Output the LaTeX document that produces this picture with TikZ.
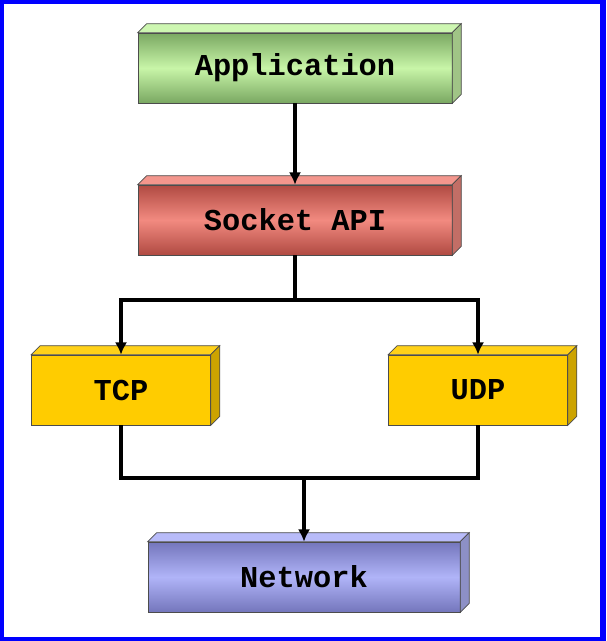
\documentclass[tikz,border=0pt]{standalone}
\usepackage{fontspec}
\setmonofont{Liberation Mono}
\usetikzlibrary{positioning, calc}
\definecolor{appmid}{HTML}{C8F5A8}
\definecolor{appdark}{HTML}{7AA862}
\definecolor{sockmid}{HTML}{F28A80}
\definecolor{sockdark}{HTML}{B04A42}
\definecolor{netmid}{HTML}{B0B4F8}
\definecolor{netdark}{HTML}{7476BC}
\definecolor{protofill}{HTML}{FFCC00}
\tikzstyle{layer} = [rectangle, minimum height=1.4cm, text centered, draw=black!70, font=\ttfamily\bfseries\LARGE]
\tikzstyle{app} = [layer, minimum width=6.28cm, top color=appdark, bottom color=appdark, middle color=appmid]
\tikzstyle{sock} = [layer, minimum width=6.28cm, top color=sockdark, bottom color=sockdark, middle color=sockmid]
\tikzstyle{proto} = [layer, minimum width=3.58cm, fill=protofill]
\tikzstyle{net} = [layer, minimum width=6.24cm, top color=netdark, bottom color=netdark, middle color=netmid]
\tikzstyle{arrow} = [-{Latex[length=7pt,width=7pt]}, line width=2.2pt]
\tikzstyle{link} = [line width=2.2pt]
\usetikzlibrary{arrows.meta}

\begin{document}
\begin{tikzpicture}[x=0.02cm, y=-0.02cm]
  \useasboundingbox (0,0) rectangle (606,641);
  \draw[blue, line width=3pt] (1.5,1.5) rectangle (603,639.5);
  % layers
  \node (app) [app] at (295,68) {Application};
  \node (sock) [sock] at (295,220) {Socket API};
  \node (tcp) [proto] at (121,390) {TCP};
  \node (udp) [proto] at (478,390) {UDP};
  \node (net) [net] at (304,577) {Network};
  % depth faces
  \foreach \n/\c in {app/appmid, sock/sockmid, tcp/protofill, udp/protofill, net/netmid} {
    \draw[draw=black!70, fill=\c!90!white] (\n.north west) -- ++(9,-9) -- ($(\n.north east)+(9,-9)$) -- (\n.north east) -- cycle;
    \draw[draw=black!70, fill=\c!80!black] (\n.north east) -- ++(9,-9) -- ($(\n.south east)+(9,-9)$) -- (\n.south east) -- cycle;
  }
  % connectors
  \coordinate (split) at (295,300);
  \coordinate (join) at (304,478);
  \draw [arrow] (app) -- (sock);
  \draw [link] (sock) -- (split);
  \draw [arrow] (split) -| (tcp);
  \draw [arrow] (split) -| (udp);
  \draw [link] (tcp) |- (join) -| (udp);
  \draw [arrow] (join) -- (net);
\end{tikzpicture}
\end{document}
